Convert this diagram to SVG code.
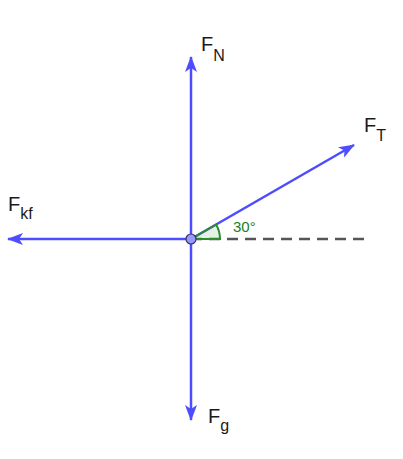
<svg xmlns="http://www.w3.org/2000/svg" width="403" height="459" viewBox="0 0 403 459">
<defs>
<style>
.v{stroke:#4d4dff;stroke-width:2.5;fill:none}
.lbl{font-family:"Liberation Sans",Arial,sans-serif;font-size:20px;fill:#1a1a1a}
.sub{font-size:16px}
</style>
<marker id="ah" viewBox="0 0 16 12" refX="15" refY="6" markerWidth="16" markerHeight="12" markerUnits="userSpaceOnUse" orient="auto">
<path d="M0,0 L16,6 L0,12 L4,6 Z" fill="#4d4dff"/>
</marker>
</defs>
<rect width="403" height="459" fill="#ffffff"/>
<g id="connectors">
<line x1="191" y1="239" x2="370" y2="239" stroke="#555555" stroke-width="2.3" stroke-dasharray="11,7"/>
<line class="v" x1="191" y1="239" x2="191" y2="57" marker-end="url(#ah)"/>
<line class="v" x1="191" y1="239" x2="191" y2="420" marker-end="url(#ah)"/>
<line class="v" x1="191" y1="239" x2="8" y2="239" marker-end="url(#ah)"/>
<line class="v" x1="191" y1="239" x2="354" y2="145" marker-end="url(#ah)"/>
</g>
<g id="angle">
<path d="M191,239 L220,239 A29,29 0 0 0 216.1,224.5 Z" fill="#228b22" fill-opacity="0.12" stroke="#2e8b2e" stroke-width="2"/>
<text x="233" y="232" font-family="'Liberation Sans',Arial,sans-serif" font-size="15" fill="#1a801a">30°</text>
</g>
<g id="origin">
<circle cx="191" cy="239" r="5" fill="#9999ff" stroke="#333366" stroke-width="1.2"/>
</g>
<g id="FN"><text class="lbl" x="201" y="51">F<tspan class="sub" dy="10">N</tspan></text></g>
<g id="FT"><text class="lbl" x="364" y="132">F<tspan class="sub" dy="9">T</tspan></text></g>
<g id="Fkf"><text class="lbl" x="8" y="211">F<tspan class="sub" dy="8">kf</tspan></text></g>
<g id="Fg"><text class="lbl" x="208" y="423">F<tspan class="sub" dy="8">g</tspan></text></g>
</svg>
